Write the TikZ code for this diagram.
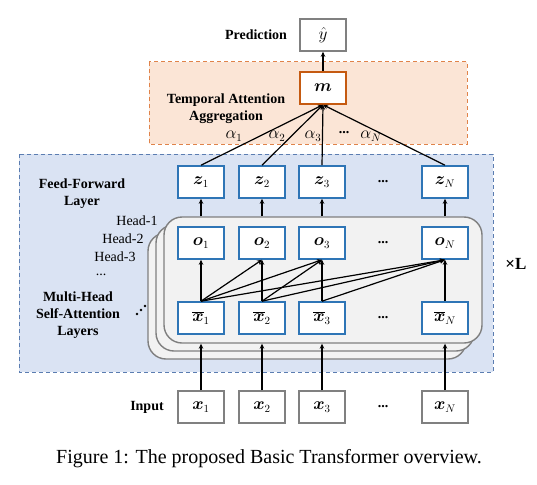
\documentclass[tikz,border=0pt]{standalone}
\usepackage{fontspec}
\setmainfont{Liberation Serif}
\usepackage{bm}
\usetikzlibrary{arrows.meta}

\definecolor{boxblue}{HTML}{2E75B6}
\definecolor{boxgray}{HTML}{808080}
\definecolor{boxorange}{HTML}{C55A11}
\definecolor{aggfill}{HTML}{FBE5D6}
\definecolor{aggline}{HTML}{E0834A}
\definecolor{encfill}{HTML}{DAE3F3}
\definecolor{encline}{HTML}{5B7DB1}
\definecolor{layerfill}{HTML}{F2F2F2}
\definecolor{layergray}{HTML}{7F7F7F}

\tikzset{
  vecbox/.style={draw=boxblue, line width=1.6pt, fill=white,
    minimum width=46pt, minimum height=32pt, inner sep=0pt,
    font=\fontsize{16}{18}\selectfont},
  inbox/.style={vecbox, draw=boxgray},
  aggbox/.style={vecbox, draw=boxorange},
  layer/.style={draw=layergray, line width=1.4pt, fill=layerfill,
    rounded corners=18pt, minimum width=318pt, minimum height=126pt},
  lbl/.style={font=\fontsize{14}{17}\selectfont\bfseries, align=center},
  wlbl/.style={font=\fontsize{16}{18}\selectfont},
  arr/.style={-{Stealth[length=5pt,width=4.5pt]}, line width=1.2pt},
}

\begin{document}
\begin{tikzpicture}[x=1pt, y=-1pt, font=\fontsize{14}{16}\selectfont]
  \useasboundingbox[fill=white] (0,0) rectangle (537,484);

  % dashed frames
  \draw[encline, dash pattern=on 4pt off 3pt, line width=1pt, fill=encfill] (19,154) rectangle (493,372);
  \draw[aggline, dash pattern=on 4pt off 3pt, line width=1pt, fill=aggfill] (149,62) rectangle (467,144);

  % stacked heads
  \node[layer] (head3) at (307,296) {};
  \node[layer] (head2) at (315,288) {};
  \node[layer] (head1) at (323,280) {};

  % rows of vectors
  \foreach \i/\xx in {1/201, 2/262, 3/322, N/445} {
    \node[vecbox] (z\i)  at (\xx,182) {$\bm{z}_{\i}$};
    \node[vecbox] (o\i)  at (\xx,243) {$\bm{o}_{\i}$};
    \node[vecbox] (xb\i) at (\xx,318) {$\overline{\bm{x}}_{\i}$};
    \node[inbox]  (x\i)  at (\xx,407) {$\bm{x}_{\i}$};
  }
  \foreach \yy in {182, 243, 318, 407}
    \node at (383,\yy) {\textbf{...}};

  \node[aggbox] (m) at (323,88) {$\bm{m}$};
  \node[inbox] (yhat) at (323,35) {$\hat{y}$};

  % connectors
  \foreach \i in {1,2,3,N} {
    \draw[arr] (x\i.north) -- (x\i.north |- head1.south);
    \draw[arr] (xb\i.north) -- (o\i.south);
    \draw[arr] (z\i.north |- head1.north) -- (z\i.south);
    \draw[arr] (z\i.north) -- (m.south);
  }
  \foreach \a/\b in {1/2, 1/3, 1/N, 2/3, 2/N, 3/N}
    \draw[arr] (xb\a.north) -- (o\b.south);
  \draw[arr] (m.north) -- (yhat.south);

  % attention weights
  \node[wlbl] (a1) at (234,136) {$\alpha_1$};
  \node[wlbl] (a2) at (277,136) {$\alpha_2$};
  \node[wlbl] (a3) at (313,136) {$\alpha_3$};
  \node (adots) at (344,133) {\textbf{...}};
  \node[wlbl] (aN) at (371,136) {$\alpha_N$};

  % labels
  \node[lbl] (predlbl) at (256,35) {Prediction};
  \node[lbl] (agglbl) at (226,109) {Temporal Attention\\Aggregation};
  \node[lbl] (fflbl) at (82,194) {Feed-Forward\\Layer};
  \node[lbl] (mhlbl) at (78,315) {Multi-Head\\Self-Attention\\Layers};
  \node (h1) at (137,221) {Head-1};
  \node (h2) at (123,239) {Head-2};
  \node (h3) at (115,257) {Head-3};
  \node (hdots) at (101,275) {...};
  \foreach \dx/\dy in {137/314, 141/310, 145/306}
    \fill (\dx,\dy) circle (1.4pt);
  \node[font=\fontsize{17}{19}\selectfont\bfseries] (times) at (516,264) {×L};
  \node[lbl] (inlbl) at (147,407) {Input};

  \node (caption) at (269,459) {\fontsize{20}{24}\selectfont Figure 1: The proposed Basic Transformer overview.};
\end{tikzpicture}
\end{document}
